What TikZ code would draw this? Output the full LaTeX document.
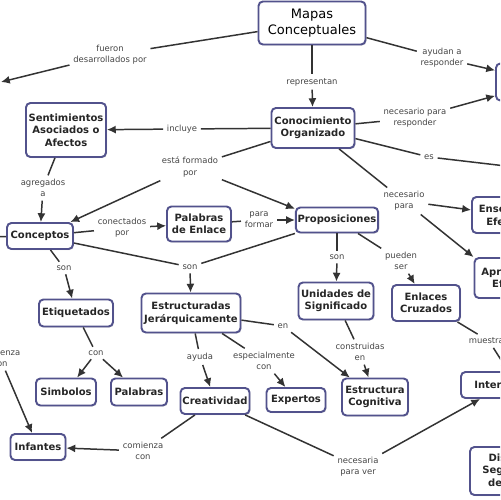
\documentclass[tikz,border=0pt]{standalone}
\usepackage{fontspec}
\setmainfont{DejaVu Sans}
\usepackage{xcolor}
\usetikzlibrary{arrows.meta,shadows}
\definecolor{boxline}{HTML}{52528C}
\definecolor{ink}{HTML}{333333}
\definecolor{labink}{HTML}{444444}

\begin{document}
\begin{tikzpicture}[x=0.02cm, y=-0.02cm,
  concept/.style={rectangle, rounded corners=2.5pt, draw=boxline, line width=1.1pt,
                  fill=white, align=center, text=black!85, inner sep=1pt,
                  font=\bfseries\fontsize{5.7}{7.1}\selectfont,
                  drop shadow={shadow xshift=0.6pt, shadow yshift=-0.6pt, opacity=0.25}},
  titlebox/.style={concept, text=black, font=\fontsize{7.4}{9.1}\selectfont},
  link/.style={align=center, text=labink, inner sep=2pt,
               font=\fontsize{4.8}{6.3}\selectfont},
  conn/.style={draw=ink, line width=0.85pt},
  arr/.style={conn, -{Latex[length=5pt,width=4.6pt]}},
]
\useasboundingbox (0,0) rectangle (500,500);
\clip (0,0) rectangle (500,500);

\node[titlebox, minimum width=21.4mm, minimum height=8.6mm] (mapas) at (312,23) {Mapas\\Conceptuales};
\node[concept, minimum width=19.6mm, minimum height=7.4mm] (preg) at (545,82) {Preguntas\\de Enfoque};
\node[concept, minimum width=16mm, minimum height=10.8mm] (senti) at (66,130) {Sentimientos\\Asociados o\\Afectos};
\node[concept, minimum width=16.6mm, minimum height=8mm] (conoc) at (313,128) {Conocimiento\\Organizado};
\node[concept, minimum width=13.2mm, minimum height=5.2mm] (concep) at (40,236) {Conceptos};
\node[concept, minimum width=12.8mm, minimum height=7mm] (palenl) at (199,224) {Palabras\\de Enlace};
\node[concept, minimum width=16.4mm, minimum height=5mm] (propos) at (337,220) {Proposiciones};
\node[concept, minimum width=14.8mm, minimum height=7.2mm] (ensen) at (509,215) {Enseñanza\\Efectiva};
\node[concept, minimum width=16.2mm, minimum height=8mm] (apren) at (515,278) {Aprendizaje\\Efectivo};
\node[concept, minimum width=14.8mm, minimum height=5.4mm] (etiq) at (76,313) {Etiquetados};
\node[concept, minimum width=19.8mm, minimum height=7.8mm] (estjer) at (191,313) {Estructuradas\\Jerárquicamente};
\node[concept, minimum width=15mm, minimum height=7.4mm] (unid) at (336,301) {Unidades de\\Significado};
\node[concept, minimum width=13.6mm, minimum height=7.2mm] (enlcruz) at (426,303) {Enlaces\\Cruzados};
\node[concept, minimum width=12mm, minimum height=5.4mm] (simb) at (66,392) {Simbolos};
\node[concept, minimum width=11.2mm, minimum height=5.4mm] (palab) at (139,392) {Palabras};
\node[concept, minimum width=13.8mm, minimum height=5.2mm] (creat) at (215,401) {Creatividad};
\node[concept, minimum width=11.8mm, minimum height=4.8mm] (expert) at (296,400) {Expertos};
\node[concept, minimum width=13.2mm, minimum height=7.4mm] (estcog) at (375,397) {Estructura\\Cognitiva};
\node[concept, minimum width=22.4mm, minimum height=5.2mm] (inter) at (517,385) {Interrelaciones};
\node[concept, minimum width=17.6mm, minimum height=9.6mm] (difseg) at (514,471) {Distintos\\Segmentos\\del Mapa};
\node[concept, minimum width=11mm, minimum height=5.2mm] (infan) at (38,447) {Infantes};

\coordinate (autor) at (1,82);
\coordinate (offes) at (540,170);
\coordinate (offizq) at (-20,237);

\node[link] (l-fueron) at (110,55) {fueron\\desarrollados por};
\node[link] (l-ayudan) at (442,58) {ayudan a\\responder};
\node[link] (l-repr) at (312,82) {representan};
\node[link] (l-necresp) at (415,118) {necesario para\\responder};
\node[link] (l-es) at (429,157) {es};
\node[link] (l-incl) at (182,129) {incluye};
\node[link] (l-formado) at (190,167) {está formado\\por};
\node[link] (l-agreg) at (43,188) {agregados\\a};
\node[link] (l-conect) at (122,228) {conectados\\por};
\node[link] (l-parafor) at (259,220) {para\\formar};
\node[link] (l-necpara) at (404,201) {necesario\\para};
\node[link] (l-son1) at (64,268) {son};
\node[link] (l-son2) at (190,267) {son};
\node[link] (l-son3) at (337,257) {son};
\node[link] (l-pueden) at (401,261) {pueden\\ser};
\node[link] (l-en) at (283,326) {en};
\node[link] (l-con) at (96,353) {con};
\node[link] (l-ayuda) at (200,357) {ayuda};
\node[link] (l-espec) at (264,361) {especialmente\\con};
\node[link] (l-constr) at (360,352) {construidas\\en};
\node[link] (l-muestran) at (489,341) {muestran};
\node[link] (l-comcon) at (143,451) {comienza\\con};
\node[link] (l-comcon2) at (0,358) {comienza\\con};
\node[link] (l-necver) at (358,467) {necesaria\\para ver};

\draw[conn] (mapas) -- (l-fueron);
\draw[arr] (l-fueron) -- (autor);
\draw[conn] (mapas) -- (l-ayudan);
\draw[arr] (l-ayudan) -- (preg);
\draw[conn] (mapas) -- (l-repr);
\draw[arr] (l-repr) -- (conoc);
\draw[conn] (conoc) -- (l-necresp);
\draw[arr] (l-necresp) -- (preg);
\draw[conn] (conoc) -- (l-es);
\draw[conn] (l-es) -- (offes);
\draw[conn] (conoc) -- (l-incl);
\draw[arr] (l-incl) -- (senti);
\draw[conn] (conoc) -- (l-formado);
\draw[arr] (l-formado) -- (concep);
\draw[arr] (l-formado) -- (propos.165);
\draw[conn] (senti) -- (l-agreg);
\draw[arr] (l-agreg) -- (concep);
\draw[conn] (concep) -- (l-conect);
\draw[arr] (l-conect) -- (palenl);
\draw[conn] (palenl) -- (l-parafor);
\draw[arr] (l-parafor) -- (propos);
\draw[conn] (concep) -- (offizq);
\draw[conn] (concep) -- (l-son1);
\draw[arr] (l-son1) -- (etiq);
\draw[conn] (concep) -- (l-son2);
\draw[conn] (propos) -- (l-son2);
\draw[arr] (l-son2) -- (estjer);
\draw[conn] (propos) -- (l-son3);
\draw[arr] (l-son3) -- (unid);
\draw[conn] (propos) -- (l-pueden);
\draw[arr] (l-pueden) -- (enlcruz);
\draw[conn] (conoc) -- (l-necpara);
\draw[arr] (l-necpara) -- (ensen);
\draw[arr] (l-necpara) -- (apren.north west);
\draw[conn] (etiq) -- (l-con);
\draw[arr] (l-con) -- (simb);
\draw[arr] (l-con) -- (palab);
\draw[conn] (estjer) -- (l-ayuda);
\draw[arr] (l-ayuda) -- (creat);
\draw[conn] (estjer) -- (l-espec);
\draw[arr] (l-espec) -- (expert);
\draw[conn] (estjer) -- (l-en);
\draw[arr] (l-en) -- (estcog);
\draw[conn] (unid) -- (l-constr);
\draw[arr] (l-constr) -- (estcog);
\draw[conn] (enlcruz) -- (l-muestran);
\draw[arr] (l-muestran) -- (inter);
\draw[conn] (creat) -- (l-necver);
\draw[arr] (l-necver) -- ([xshift=0.4cm]inter.south west);
\draw[conn] (creat) -- (l-comcon);
\draw[arr] (l-comcon) -- (infan);
\draw[arr] (l-comcon2) -- (infan);
\end{tikzpicture}
\end{document}
